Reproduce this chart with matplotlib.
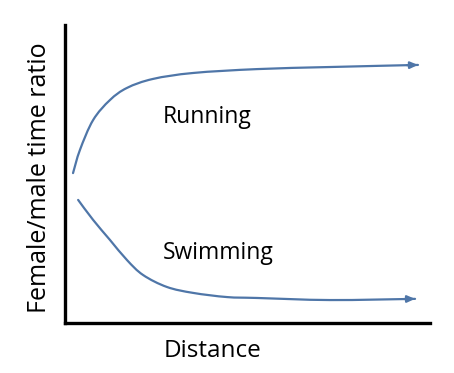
import matplotlib
matplotlib.use("Agg")
from matplotlib import pyplot as plt
from matplotlib.path import Path
from matplotlib.patches import PathPatch

# distance (arbitrary units) and female/male time ratio (arbitrary units)
run_x = [0.22, 0.41, 0.77, 1.23, 1.70, 2.41, 3.51, 5.26, 7.26, 9.67]
run_y = [5.03, 5.81, 6.81, 7.48, 7.89, 8.19, 8.39, 8.52, 8.59, 8.66]

swim_x = [0.36, 0.77, 1.23, 1.70, 2.14, 2.79, 3.51, 4.44, 5.26, 7.26, 9.59]
swim_y = [4.13, 3.46, 2.79, 2.11, 1.61, 1.21, 1.01, 0.87, 0.84, 0.77, 0.81]

W, H = 454, 373
blue = "#4f76a8"
plt.rcParams['font.family'] = ['Open Sans', 'DejaVu Sans']


def smooth_path(xs, ys):
    # Catmull-Rom through the points, drawn as cubic Bezier segments
    pts = list(zip(xs, ys))
    verts = [pts[0]]
    codes = [Path.MOVETO]
    for i in range(len(pts) - 1):
        p0 = pts[i - 1] if i > 0 else pts[i]
        p1, p2 = pts[i], pts[i + 1]
        p3 = pts[i + 2] if i + 2 < len(pts) else pts[i + 1]
        c1 = (p1[0] + (p2[0] - p0[0]) / 6, p1[1] + (p2[1] - p0[1]) / 6)
        c2 = (p2[0] - (p3[0] - p1[0]) / 6, p2[1] - (p3[1] - p1[1]) / 6)
        verts += [c1, c2, p2]
        codes += [Path.CURVE4] * 3
    return Path(verts, codes)


fig = plt.figure(figsize=(W / 100, H / 100), dpi=100)
ax = fig.add_axes([65 / W, 1 - 323 / H, (430 - 65) / W, (323 - 25) / H])

for xs, ys in [(run_x, run_y), (swim_x, swim_y)]:
    ax.add_patch(PathPatch(smooth_path(xs, ys), facecolor='none', edgecolor=blue,
                           lw=1.6, capstyle='round'))
    # arrow head at the far end
    ax.annotate("", xy=(xs[-1], ys[-1]), xytext=(xs[-1] - 0.3, ys[-1] - 0.3 * (ys[-1] - ys[-2]) / (xs[-1] - xs[-2])),
                arrowprops=dict(arrowstyle="-|>,head_length=0.45,head_width=0.2",
                                color=blue, lw=1.6, shrinkA=0, shrinkB=0))

ax.set_xlim(0, 10)
ax.set_ylim(0, 10)
ax.set_xticks([])
ax.set_yticks([])
for s in ['top', 'right']:
    ax.spines[s].set_visible(False)
for s in ['left', 'bottom']:
    ax.spines[s].set_linewidth(2.4)
    ax.spines[s].set_color('black')

fig.text(163 / W, 1 - 117 / H, "Running", fontsize=16.5, va='center', ha='left')
fig.text(163 / W, 1 - 253 / H, "Swimming", fontsize=16.5, va='center', ha='left')
fig.text(212 / W, 1 - 351 / H, "Distance", fontsize=17.5, va='center', ha='center')
fig.text(40 / W, 1 - 178 / H, "Female/male time ratio", fontsize=18,
         va='center', ha='center', rotation=90)

fig.savefig("out.png", dpi=100)
